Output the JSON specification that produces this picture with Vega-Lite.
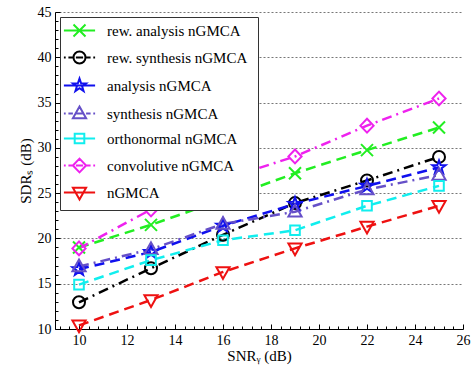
{
  "$schema": "https://vega.github.io/schema/vega-lite/v6.json",
  "width": 408,
  "height": 317,
  "autosize": {"type": "none"},
  "padding": {"left": 55, "top": 12, "right": 11, "bottom": 47},
  "background": "white",
  "config": {
    "font": "Liberation Serif",
    "view": {"stroke": null},
    "axis": {
      "labelFont": "Liberation Serif",
      "titleFont": "Liberation Serif",
      "labelFontSize": 14,
      "titleFontSize": 15,
      "titleFontWeight": "normal",
      "labelColor": "black",
      "titleColor": "black",
      "domainColor": "black",
      "tickColor": "black"
    },
    "legend": {"labelFont": "Liberation Serif"}
  },
  "data": {
    "values": [
      {"series": "rew. analysis nGMCA", "snr": 10, "sdr": 19.0},
      {"series": "rew. analysis nGMCA", "snr": 13, "sdr": 21.5},
      {"series": "rew. analysis nGMCA", "snr": 16, "sdr": 24.3},
      {"series": "rew. analysis nGMCA", "snr": 19, "sdr": 27.2},
      {"series": "rew. analysis nGMCA", "snr": 22, "sdr": 29.75},
      {"series": "rew. analysis nGMCA", "snr": 25, "sdr": 32.25},
      {"series": "rew. synthesis nGMCA", "snr": 10, "sdr": 12.95},
      {"series": "rew. synthesis nGMCA", "snr": 13, "sdr": 16.7},
      {"series": "rew. synthesis nGMCA", "snr": 16, "sdr": 20.4},
      {"series": "rew. synthesis nGMCA", "snr": 19, "sdr": 23.9},
      {"series": "rew. synthesis nGMCA", "snr": 22, "sdr": 26.4},
      {"series": "rew. synthesis nGMCA", "snr": 25, "sdr": 29.0},
      {"series": "analysis nGMCA", "snr": 10, "sdr": 16.6},
      {"series": "analysis nGMCA", "snr": 13, "sdr": 18.5},
      {"series": "analysis nGMCA", "snr": 16, "sdr": 21.4},
      {"series": "analysis nGMCA", "snr": 19, "sdr": 23.8},
      {"series": "analysis nGMCA", "snr": 22, "sdr": 25.8},
      {"series": "analysis nGMCA", "snr": 25, "sdr": 27.85},
      {"series": "synthesis nGMCA", "snr": 10, "sdr": 16.9},
      {"series": "synthesis nGMCA", "snr": 13, "sdr": 18.8},
      {"series": "synthesis nGMCA", "snr": 16, "sdr": 21.6},
      {"series": "synthesis nGMCA", "snr": 19, "sdr": 22.95},
      {"series": "synthesis nGMCA", "snr": 22, "sdr": 25.4},
      {"series": "synthesis nGMCA", "snr": 25, "sdr": 27.0},
      {"series": "orthonormal nGMCA", "snr": 10, "sdr": 14.9},
      {"series": "orthonormal nGMCA", "snr": 13, "sdr": 17.6},
      {"series": "orthonormal nGMCA", "snr": 16, "sdr": 19.8},
      {"series": "orthonormal nGMCA", "snr": 19, "sdr": 20.9},
      {"series": "orthonormal nGMCA", "snr": 22, "sdr": 23.6},
      {"series": "orthonormal nGMCA", "snr": 25, "sdr": 25.8},
      {"series": "convolutive nGMCA", "snr": 10, "sdr": 18.9},
      {"series": "convolutive nGMCA", "snr": 13, "sdr": 23.2},
      {"series": "convolutive nGMCA", "snr": 16, "sdr": 26.5},
      {"series": "convolutive nGMCA", "snr": 19, "sdr": 29.05},
      {"series": "convolutive nGMCA", "snr": 22, "sdr": 32.45},
      {"series": "convolutive nGMCA", "snr": 25, "sdr": 35.45},
      {"series": "nGMCA", "snr": 10, "sdr": 10.4},
      {"series": "nGMCA", "snr": 13, "sdr": 13.2},
      {"series": "nGMCA", "snr": 16, "sdr": 16.3},
      {"series": "nGMCA", "snr": 19, "sdr": 18.9},
      {"series": "nGMCA", "snr": 22, "sdr": 21.3},
      {"series": "nGMCA", "snr": 25, "sdr": 23.6}
    ]
  },
  "layer": [
    {
      "mark": {"type": "line", "strokeWidth": 2.5},
      "encoding": {
        "x": {
          "field": "snr", "type": "quantitative",
          "scale": {"domain": [9, 26], "nice": false, "zero": false},
          "axis": {"orient": "bottom", "values": [10, 12, 14, 16, 18, 20, 22, 24, 26], "title": "SNRᵧ (dB)", "grid": false, "tickSize": -5, "labelPadding": 9, "labelFlush": false, "titlePadding": 1}
        },
        "y": {
          "field": "sdr", "type": "quantitative",
          "scale": {"domain": [10, 45], "nice": false, "zero": false},
          "axis": {"orient": "left", "values": [10, 15, 20, 25, 30, 35, 40, 45], "title": "SDRₛ (dB)", "grid": true, "gridDash": [2, 2], "gridColor": "#777777", "gridWidth": 1, "tickSize": -5, "labelPadding": 9, "titlePadding": 4}
        },
        "color": {
          "field": "series", "type": "nominal",
          "scale": {
            "domain": ["rew. analysis nGMCA", "rew. synthesis nGMCA", "analysis nGMCA", "synthesis nGMCA", "orthonormal nGMCA", "convolutive nGMCA", "nGMCA"],
            "range": ["#22ee22", "#000000", "#1010ee", "#6650c8", "#11eeee", "#ee22ee", "#ee1111"]
          },
          "legend": null
        },
        "strokeDash": {
          "field": "series", "type": "nominal",
          "scale": {
            "domain": ["rew. analysis nGMCA", "rew. synthesis nGMCA", "analysis nGMCA", "synthesis nGMCA", "orthonormal nGMCA", "convolutive nGMCA", "nGMCA"],
            "range": [[10, 6], [10, 5, 2, 5], [10, 6], [10, 5, 2, 5], [10, 6], [10, 5, 2, 5], [10, 6]]
          },
          "legend": null
        }
      }
    },
    {
      "mark": {"type": "point", "filled": false, "strokeWidth": 2, "size": 144, "opacity": 1},
      "encoding": {
        "x": {
          "field": "snr", "type": "quantitative",
          "axis": {"orient": "bottom", "values": [9.2, 9.6, 10.4, 10.8, 11.2, 11.6, 12.4, 12.8, 13.2, 13.6, 14.4, 14.8, 15.2, 15.6, 16.4, 16.8, 17.2, 17.6, 18.4, 18.8, 19.2, 19.6, 20.4, 20.8, 21.2, 21.6, 22.4, 22.8, 23.2, 23.6, 24.4, 24.8, 25.2, 25.6], "labels": false, "domain": false, "grid": false, "tickSize": -3, "title": null}
        },
        "y": {
          "field": "sdr", "type": "quantitative",
          "axis": {"orient": "left", "values": [11, 12, 13, 14, 16, 17, 18, 19, 21, 22, 23, 24, 26, 27, 28, 29, 31, 32, 33, 34, 36, 37, 38, 39, 41, 42, 43, 44], "labels": false, "domain": false, "grid": false, "tickSize": -3, "title": null}
        },
        "color": {
          "field": "series", "type": "nominal",
          "legend": null
        },
        "shape": {
          "field": "series", "type": "nominal",
          "scale": {
            "domain": ["rew. analysis nGMCA", "rew. synthesis nGMCA", "analysis nGMCA", "synthesis nGMCA", "orthonormal nGMCA", "convolutive nGMCA", "nGMCA"],
            "range": [
              "M-1,-1L1,1M-1,1L1,-1",
              "M1,0A1,1,0,1,1,-1,0A1,1,0,1,1,1,0Z",
              "M0,-1.15L0.27,-0.373L1.094,-0.355L0.437,0.143L0.676,0.93L0,0.46L-0.676,0.93L-0.437,0.143L-1.094,-0.355L-0.27,-0.373Z",
              "M0,-1.15L1.1,0.8L-1.1,0.8Z",
              "M-0.8,-0.8L0.8,-0.8L0.8,0.8L-0.8,0.8Z",
              "M0,-1.15L1.1,0L0,1.15L-1.1,0Z",
              "M0,1.15L1.1,-0.8L-1.1,-0.8Z"
            ]
          },
          "legend": null
        }
      }
    },
    {
      "transform": [{"filter": "false"}],
      "mark": {"type": "point", "filled": false, "strokeWidth": 2, "opacity": 1, "size": 144},
      "encoding": {
        "shape": {
          "field": "series", "type": "nominal",
          "scale": {
            "domain": ["rew. analysis nGMCA", "rew. synthesis nGMCA", "analysis nGMCA", "synthesis nGMCA", "orthonormal nGMCA", "convolutive nGMCA", "nGMCA"],
            "range": [
              "M-2.6,0L2.6,0M-1,-1L1,1M-1,1L1,-1",
              "M-2.6,0L-2.3,0M-1.85,0L-1.1,0M-0.6,0L0.6,0M1.1,0L1.85,0M2.3,0L2.6,0M1,0A1,1,0,1,1,-1,0A1,1,0,1,1,1,0Z",
              "M-2.6,0L2.6,0M0,-1.15L0.27,-0.373L1.094,-0.355L0.437,0.143L0.676,0.93L0,0.46L-0.676,0.93L-0.437,0.143L-1.094,-0.355L-0.27,-0.373Z",
              "M-2.6,0L-2.3,0M-1.85,0L-1.1,0M-0.6,0L0.6,0M1.1,0L1.85,0M2.3,0L2.6,0M0,-1.15L1.1,0.8L-1.1,0.8Z",
              "M-2.6,0L2.6,0M-0.8,-0.8L0.8,-0.8L0.8,0.8L-0.8,0.8Z",
              "M-2.6,0L-2.3,0M-1.85,0L-1.1,0M-0.6,0L0.6,0M1.1,0L1.85,0M2.3,0L2.6,0M0,-1.15L1.1,0L0,1.15L-1.1,0Z",
              "M-2.6,0L2.6,0M0,1.15L1.1,-0.8L-1.1,-0.8Z"
            ]
          },
          "legend": {
            "title": "\u00a0\u00a0\u00a0", "titleOrient": "right", "titleFontSize": 15, "titlePadding": 5,
            "orient": "top-left", "offset": 5,
            "fillColor": "white", "strokeColor": "#333333",
            "labelFont": "Liberation Serif", "labelFontSize": 15, "labelColor": "black", "labelLimit": 400,
            "symbolSize": 144, "symbolOpacity": 1, "symbolStrokeWidth": 2,
            "symbolStrokeColor": {"expr": "scale('color', datum.value)"},
            "rowPadding": 6, "padding": 6, "symbolOffset": 6, "labelOffset": 20
          }
        }
      }
    }
  ],
  "resolve": {
    "scale": {"shape": "independent"},
    "axis": {"x": "independent", "y": "independent"}
  }
}
